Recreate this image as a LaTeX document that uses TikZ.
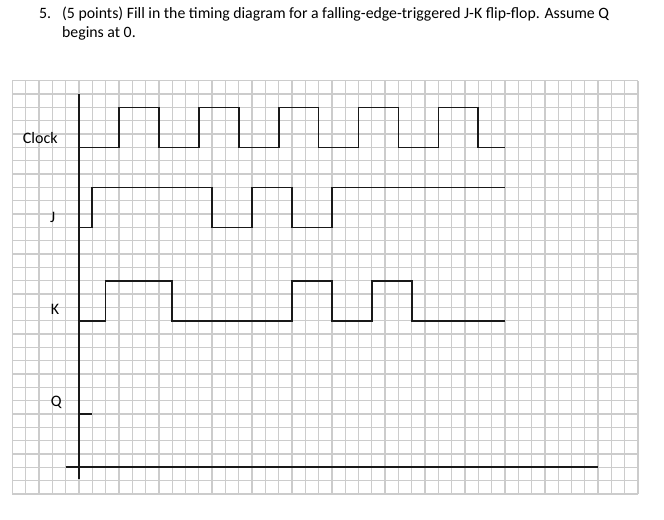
\documentclass[tikz,border=0pt]{standalone}
\usepackage{fontspec}
\setmainfont{Carlito}
\tikzset{
  gridline/.style={draw=black!20, line width=1.3bp},
  wave/.style={draw=black!90, line width=1.7bp, line join=miter},
  axisline/.style={draw=black!90, line width=1.7bp},
  titletext/.style={anchor=base west, inner sep=0pt, font=\fontsize{15.8bp}{19bp}\selectfont},
  siglabel/.style={anchor=base west, inner sep=0pt, font=\fontsize{16bp}{19bp}\selectfont},
}
\begin{document}
\begin{tikzpicture}[x=1bp,y=-1bp]
\useasboundingbox (0,0) rectangle (664,520);
\fill[white] (0,0) rectangle (664,520);
\begin{scope}[shift={(79,467.3)}, x=13.31bp, y=13.33bp]
  \foreach \i in {-5,...,42} \draw[gridline] (\i,-2) -- (\i,29);
  \foreach \j in {-2,...,29} \draw[gridline] (-5,\j) -- (42,\j);
  % clock
  \draw[wave] (0,24) -- (3,24) -- (3,27) -- (6,27) -- (6,24) -- (9,24) -- (9,27) -- (12,27) -- (12,24)
    -- (15,24) -- (15,27) -- (18,27) -- (18,24) -- (21,24) -- (21,27) -- (24,27) -- (24,24)
    -- (27,24) -- (27,27) -- (30,27) -- (30,24) -- (32,24);
  % J
  \draw[wave] (0,18) -- (1,18) -- (1,21) -- (10,21) -- (10,18) -- (13,18) -- (13,21) -- (16,21)
    -- (16,18) -- (19,18) -- (19,21) -- (32,21);
  % K
  \draw[wave] (0,11) -- (2,11) -- (2,14) -- (7,14) -- (7,11) -- (16,11) -- (16,14) -- (19,14)
    -- (19,11) -- (22,11) -- (22,14) -- (25,14) -- (25,11) -- (32,11);
  % Q start
  \draw[wave] (0,4) -- (1,4);
  % axes
  \draw[axisline] (0,28) -- (0,-0.9);
  \draw[axisline] (-1,0) -- (39,0);
\end{scope}
% title
\node[titletext] (num) at (39,18.3) {5.};
\node[titletext] (line1) at (62,18.3) {(5 points) Fill in the timing diagram for a falling-edge-triggered J-K flip-flop. Assume Q};
\node[titletext] (line2) at (62,37.7) {begins at 0.};
% labels
\node[siglabel] (lclk) at (22.7,143.3) {Clock};
\node[siglabel] (lj) at (50,222.7) {J};
\node[siglabel] (lk) at (50.7,314.3) {K};
\node[siglabel] (lq) at (50.7,406.7) {Q};
\end{tikzpicture}
\end{document}
